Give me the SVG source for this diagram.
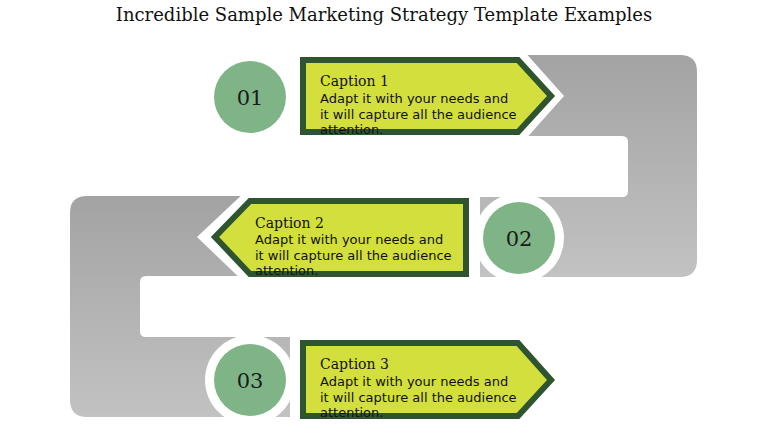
<svg xmlns="http://www.w3.org/2000/svg" width="768" height="433" viewBox="0 0 768 433">
<defs>
<linearGradient id="g" x1="0" y1="0" x2="0" y2="1"><stop offset="0" stop-color="#a3a3a3"/><stop offset="1" stop-color="#c2c2c2"/></linearGradient>
<style>
.band{fill:url(#g)}
.arr{fill:#d3df3c;stroke:#2e5530;stroke-width:6;stroke-linejoin:miter}
.halo{fill:#fff}
.circ{fill:#7fb486}
.num{font-family:"DejaVu Serif",serif;font-size:21px;fill:#1a1a1a;text-anchor:middle}
.cap{font-family:"DejaVu Serif",serif;font-size:14px;fill:#111}
.body{font-family:"DejaVu Sans",sans-serif;font-size:13px;fill:#111}
.title{font-family:"DejaVu Serif",serif;font-size:18px;fill:#111;text-anchor:middle}
</style>
</defs>
<rect width="768" height="433" fill="#fff"/>
<text class="title" x="384" y="21">Incredible Sample Marketing Strategy Template Examples</text>
<g id="bands">
<path class="band" d="M480 55 H680 Q697 55 697 72 V260 Q697 277 680 277 H480 V197 H622 Q628 197 628 191 V142 Q628 136 622 136 H480 Z"/>
<path class="band" d="M290 196 H87 Q70 196 70 213 V400 Q70 417 87 417 H290 V337 H146 Q140 337 140 331 V282 Q140 276 146 276 H290 Z"/>
</g>
<g id="node1">
<polygon class="halo" points="292,50 523,50 564,96 523,142 292,142"/>
<circle class="circ" cx="250" cy="97" r="36"/>
<text class="num" x="250" y="105">01</text>
<polygon class="arr" points="303,60 518,60 551,96 518,132 303,132"/>
<text class="cap" x="320" y="86">Caption 1</text>
<text class="body" x="320" y="103">Adapt it with your needs and</text>
<text class="body" x="320" y="119">it will capture all the audience</text>
<text class="body" x="320" y="134">attention.</text>
</g>
<g id="node2">
<polygon class="halo" points="476,191 246,191 197,237 246,284 476,284"/>
<circle class="halo" cx="519" cy="238" r="45"/>
<circle class="circ" cx="519" cy="238" r="36"/>
<text class="num" x="519" y="246">02</text>
<polygon class="arr" points="466,201 250,201 215,237 250,274 466,274"/>
<text class="cap" x="255" y="228">Caption 2</text>
<text class="body" x="255" y="244">Adapt it with your needs and</text>
<text class="body" x="255" y="260">it will capture all the audience</text>
<text class="body" x="255" y="275">attention.</text>
</g>
<g id="node3">
<circle class="halo" cx="250" cy="380" r="45"/>
<circle class="circ" cx="250" cy="380" r="36"/>
<text class="num" x="250" y="388">03</text>
<polygon class="arr" points="303,343 518,343 551,380 518,416 303,416"/>
<text class="cap" x="320" y="369">Caption 3</text>
<text class="body" x="320" y="386">Adapt it with your needs and</text>
<text class="body" x="320" y="402">it will capture all the audience</text>
<text class="body" x="320" y="417">attention.</text>
</g>
</svg>
